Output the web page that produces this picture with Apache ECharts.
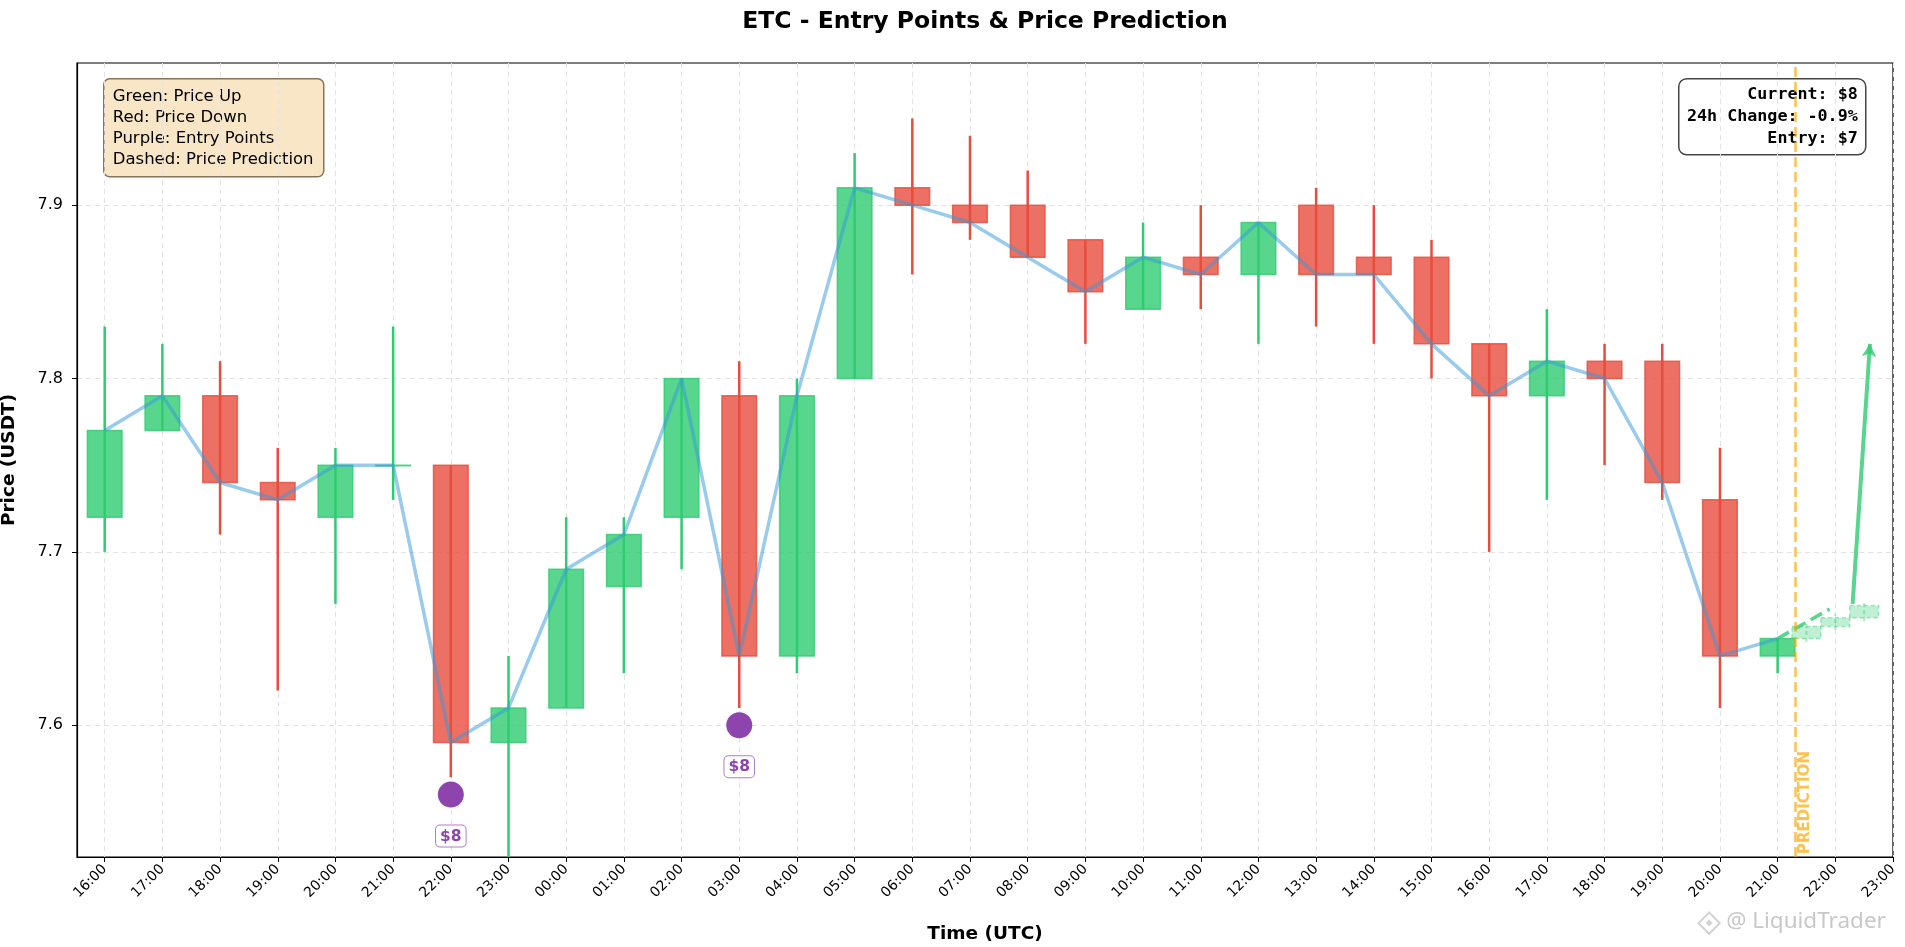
<!DOCTYPE html>
<html>
<head>
<meta charset="utf-8">
<title>ETC - Entry Points & Price Prediction</title>
<script src="https://cdn.jsdelivr.net/npm/echarts@6/dist/echarts.min.js"></script>
<style>
html, body { margin: 0; padding: 0; background: #fff; }
#main { width: 1905px; height: 947px; }
</style>
</head>
<body>
<div id="main"></div>
<script>
// 时间轴标签 (16:00 ~ 次日 23:00)
var timeLabels = ['16:00','17:00','18:00','19:00','20:00','21:00','22:00','23:00',
	'00:00','01:00','02:00','03:00','04:00','05:00','06:00','07:00','08:00','09:00',
	'10:00','11:00','12:00','13:00','14:00','15:00','16:00','17:00','18:00','19:00',
	'20:00','21:00','22:00','23:00'];

// K线数据
var opens  = [7.72,7.77,7.79,7.74,7.72,7.75,7.75,7.59,7.61,7.68,7.72,7.79,7.64,7.80,7.91,
	7.90,7.90,7.88,7.84,7.87,7.86,7.90,7.87,7.87,7.82,7.79,7.81,7.81,7.73,7.64];
var closes = [7.77,7.79,7.74,7.73,7.75,7.75,7.59,7.61,7.69,7.71,7.80,7.64,7.79,7.91,7.90,
	7.89,7.87,7.85,7.87,7.86,7.89,7.86,7.86,7.82,7.79,7.81,7.80,7.74,7.64,7.65];
var lows   = [7.70,7.77,7.71,7.62,7.67,7.73,7.57,7.50,7.61,7.63,7.69,7.61,7.63,7.80,7.86,
	7.88,7.87,7.82,7.84,7.84,7.82,7.83,7.82,7.80,7.70,7.73,7.75,7.73,7.61,7.63];
var highs  = [7.83,7.82,7.81,7.76,7.76,7.83,7.75,7.64,7.72,7.72,7.80,7.81,7.80,7.93,7.95,
	7.94,7.92,7.88,7.89,7.90,7.89,7.91,7.90,7.88,7.82,7.84,7.82,7.82,7.76,7.65];

// 入场点
var entryX = [6, 11];
var entryPrice = [7.56, 7.60];

// 预测数据
var predX     = [29.5, 30, 30.5];
var predOpen  = [7.650, 7.657, 7.662];
var predClose = [7.657, 7.662, 7.669];
var predLow   = [7.648, 7.655, 7.660];
var predHigh  = [7.659, 7.664, 7.671];
var predLine  = [[29, 7.65], [29.9, 7.667]];
var predArrow = [[30.3, 7.67], [30.6, 7.82]];
var predStartX = 29.3;

var yTicks = [7.6, 7.7, 7.8, 7.9];
var Y_MIN = 7.524, Y_MAX = 7.982;
var X_MIN = -0.48, X_MAX = 31;

var UP = '#2ecc71', DOWN = '#e74c3c';

var candleData = [], i;
for (i = 0; i < opens.length; i++) {
	candleData.push([i, opens[i], closes[i], lows[i], highs[i]]);
}
var closeData = [];
for (i = 0; i < closes.length; i++) {
	closeData.push([i, closes[i]]);
}
var predData = [];
for (i = 0; i < predX.length; i++) {
	predData.push([predX[i], predOpen[i], predClose[i], predLow[i], predHigh[i]]);
}
var entryData = [];
for (i = 0; i < entryX.length; i++) {
	entryData.push([entryX[i], entryPrice[i]]);
}
var xTickValues = [];
for (i = 0; i < timeLabels.length; i++) { xTickValues.push(i); }

function renderCandle(params, api) {
	var x = api.value(0), o = api.value(1), c = api.value(2);
	var lo = Math.max(api.value(3), Y_MIN), hi = api.value(4);
	var color = c >= o ? UP : DOWN;
	var p1 = api.coord([x - 0.3, Math.max(o, c)]);
	var p2 = api.coord([x + 0.3, Math.min(o, c)]);
	var pl = api.coord([x, lo]), ph = api.coord([x, hi]);
	return {
		type: 'group',
		children: [
			{ type: 'line', shape: { x1: pl[0], y1: pl[1], x2: ph[0], y2: ph[1] },
			  style: { stroke: color, lineWidth: 2.5 } },
			{ type: 'rect', shape: { x: p1[0], y: p1[1], width: p2[0] - p1[0], height: Math.max(p2[1] - p1[1], 0.5) },
			  style: { fill: color, stroke: color, lineWidth: 1.5, opacity: 0.8 } }
		]
	};
}

function renderPred(params, api) {
	var x = api.value(0), o = api.value(1), c = api.value(2);
	var lo = api.value(3), hi = api.value(4);
	var p1 = api.coord([x - 0.25, Math.max(o, c)]);
	var p2 = api.coord([x + 0.25, Math.min(o, c)]);
	var pl = api.coord([x, lo]), ph = api.coord([x, hi]);
	return {
		type: 'group',
		children: [
			{ type: 'rect', shape: { x: p1[0], y: p1[1], width: p2[0] - p1[0], height: p2[1] - p1[1] },
			  style: { fill: 'rgba(46,204,113,0.3)', stroke: 'rgba(46,204,113,0.45)', lineWidth: 1.5, lineDash: [4, 3] } },
			{ type: 'line', shape: { x1: pl[0], y1: pl[1], x2: ph[0], y2: ph[1] },
			  style: { stroke: 'rgba(46,204,113,0.4)', lineWidth: 2, lineDash: [4, 3] } }
		]
	};
}

var myChart = echarts.init(document.getElementById('main'));

var option = {
	animation: false,
	backgroundColor: '#fff',
	textStyle: { fontFamily: 'DejaVu Sans' },
	grid: {
		left: 77, right: 12, top: 63, bottom: 90,
		containLabel: false,
		outerBoundsMode: 'none',
		show: true, borderColor: '#000', borderWidth: 1.2, backgroundColor: 'transparent'
	},
	xAxis: {
		type: 'value',
		min: X_MIN, max: X_MAX,
		name: 'Time (UTC)',
		nameLocation: 'middle',
		nameGap: 68,
		nameTextStyle: { fontSize: 18.5, fontWeight: 'bold', color: '#000' },
		axisLine: { show: true, onZero: false, lineStyle: { color: '#000', width: 1.2 } },
		axisTick: { show: true, length: 5, customValues: xTickValues, lineStyle: { color: '#000' } },
		axisLabel: {
			customValues: xTickValues,
			rotate: 45, margin: 10, fontSize: 14, color: '#000',
			formatter: function (v) { return timeLabels[Math.round(v)]; }
		},
		splitLine: { show: true, lineStyle: { color: '#e3e3e3', type: [5, 4], width: 1 } }
	},
	yAxis: {
		type: 'value',
		min: Y_MIN, max: Y_MAX,
		name: 'Price (USDT)',
		nameLocation: 'middle',
		nameGap: 58,
		nameTextStyle: { fontSize: 18.5, fontWeight: 'bold', color: '#000' },
		axisLine: { show: true, onZero: false, lineStyle: { color: '#000', width: 1.2 } },
		axisTick: { show: true, length: 5, customValues: yTicks, lineStyle: { color: '#000' } },
		axisLabel: {
			customValues: yTicks, fontSize: 16, color: '#000', margin: 14,
			formatter: function (v) { return v.toFixed(1); }
		},
		splitLine: { show: true, lineStyle: { color: '#e3e3e3', type: [5, 4], width: 1 } }
	},
	series: [
		{
			name: 'candles',
			type: 'custom',
			renderItem: renderCandle,
			clip: true,
			encode: { x: 0, y: [1, 2, 3, 4] },
			data: candleData,
			z: 2
		},
		{
			name: 'prediction boxes',
			type: 'custom',
			renderItem: renderPred,
			clip: true,
			encode: { x: 0, y: [1, 2, 3, 4] },
			data: predData,
			z: 2
		},
		{
			name: 'close',
			type: 'line',
			data: closeData,
			symbol: 'none',
			lineStyle: { color: '#3498db', width: 3.5, opacity: 0.5 },
			z: 4,
			markLine: {
				silent: true,
				symbol: ['none', 'none'],
				lineStyle: { color: '#FFA500', width: 2.5, type: [10, 5], opacity: 0.7 },
				label: {
					show: true,
					formatter: 'PREDICTION',
					position: 'insideStartBottom',
					distance: 3,
					color: '#FFA500',
					fontWeight: 'bold',
					fontSize: 15
				},
				data: [{ xAxis: predStartX }]
			}
		},
		{
			name: 'prediction',
			type: 'line',
			data: predLine,
			symbol: 'none',
			lineStyle: { color: UP, width: 3.5, type: [13, 6], opacity: 0.8 },
			z: 4,
			markLine: {
				silent: true,
				symbol: ['none', 'arrow'],
				symbolSize: [11, 13],
				lineStyle: { color: UP, width: 4, type: 'solid', opacity: 0.8 },
				label: { show: false },
				data: [[{ coord: predArrow[0] }, { coord: predArrow[1] }]]
			}
		},
		{
			name: 'entry',
			type: 'scatter',
			data: entryData,
			symbolSize: 26,
			itemStyle: { color: '#8e44ad', opacity: 1 },
			z: 6,
			label: {
				show: true,
				position: 'bottom',
				distance: 18,
				formatter: function (p) { return '$' + Math.round(p.value[1]); },
				color: '#8e44ad',
				fontWeight: 'bold',
				fontSize: 15.5,
				backgroundColor: '#fff',
				borderColor: 'rgba(142,68,173,0.7)',
				borderWidth: 1,
				borderRadius: 4,
				padding: [3, 4, 2, 4]
			}
		}
	],
	graphic: [
		// 标题 (居中于绘图区)
		{
			type: 'text', x: 985, y: 22, z: 100,
			style: { text: 'ETC - Entry Points & Price Prediction', align: 'center', verticalAlign: 'middle',
			         fontSize: 23.5, fontWeight: 'bold', fill: '#000', fontFamily: 'DejaVu Sans' }
		},
		{
			type: 'group', left: 103, top: 78, z: 100,
			children: [
				{ type: 'rect', shape: { x: 0, y: 0, width: 220, height: 98, r: 6 },
				  style: { fill: 'rgba(245,222,179,0.75)', stroke: '#8b7355', lineWidth: 1.5 } },
				{ type: 'text', x: 9, y: 7,
				  style: { text: 'Green: Price Up\nRed: Price Down\nPurple: Entry Points\nDashed: Price Prediction',
				           fontSize: 16.5, lineHeight: 21, fill: '#000', fontFamily: 'DejaVu Sans' } }
			]
		},
		{
			type: 'group', left: 1678, top: 78, z: 100,
			children: [
				{ type: 'rect', shape: { x: 0, y: 0, width: 187, height: 76, r: 8 },
				  style: { fill: '#fff', stroke: '#444', lineWidth: 1.5 } },
				{ type: 'text', x: 179, y: 5,
				  style: { text: 'Current: $8\n24h Change: -0.9%\nEntry: $7', align: 'right',
				           fontSize: 16.7, lineHeight: 22, fill: '#000', fontWeight: 'bold',
				           fontFamily: 'DejaVu Sans Mono' } }
			]
		},
		{
			type: 'group', left: 1695, top: 909, z: 100,
			children: [
				{ type: 'rect', x: 13, y: 2, rotation: -Math.PI / 4, shape: { x: 0, y: 0, width: 15, height: 15 },
				  style: { fill: 'none', stroke: '#d3d3d3', lineWidth: 2 } },
				{ type: 'rect', x: 13, y: 9, rotation: -Math.PI / 4, shape: { x: 0, y: 0, width: 5, height: 5 },
				  style: { fill: '#d3d3d3' } },
				{ type: 'text', x: 30, y: 0,
				  style: { text: '@ LiquidTrader', fontSize: 22.5, fill: '#c8c8c8', fontFamily: 'Noto Sans' } }
			]
		}
	]
};

myChart.setOption(option);
</script>
</body>
</html>
